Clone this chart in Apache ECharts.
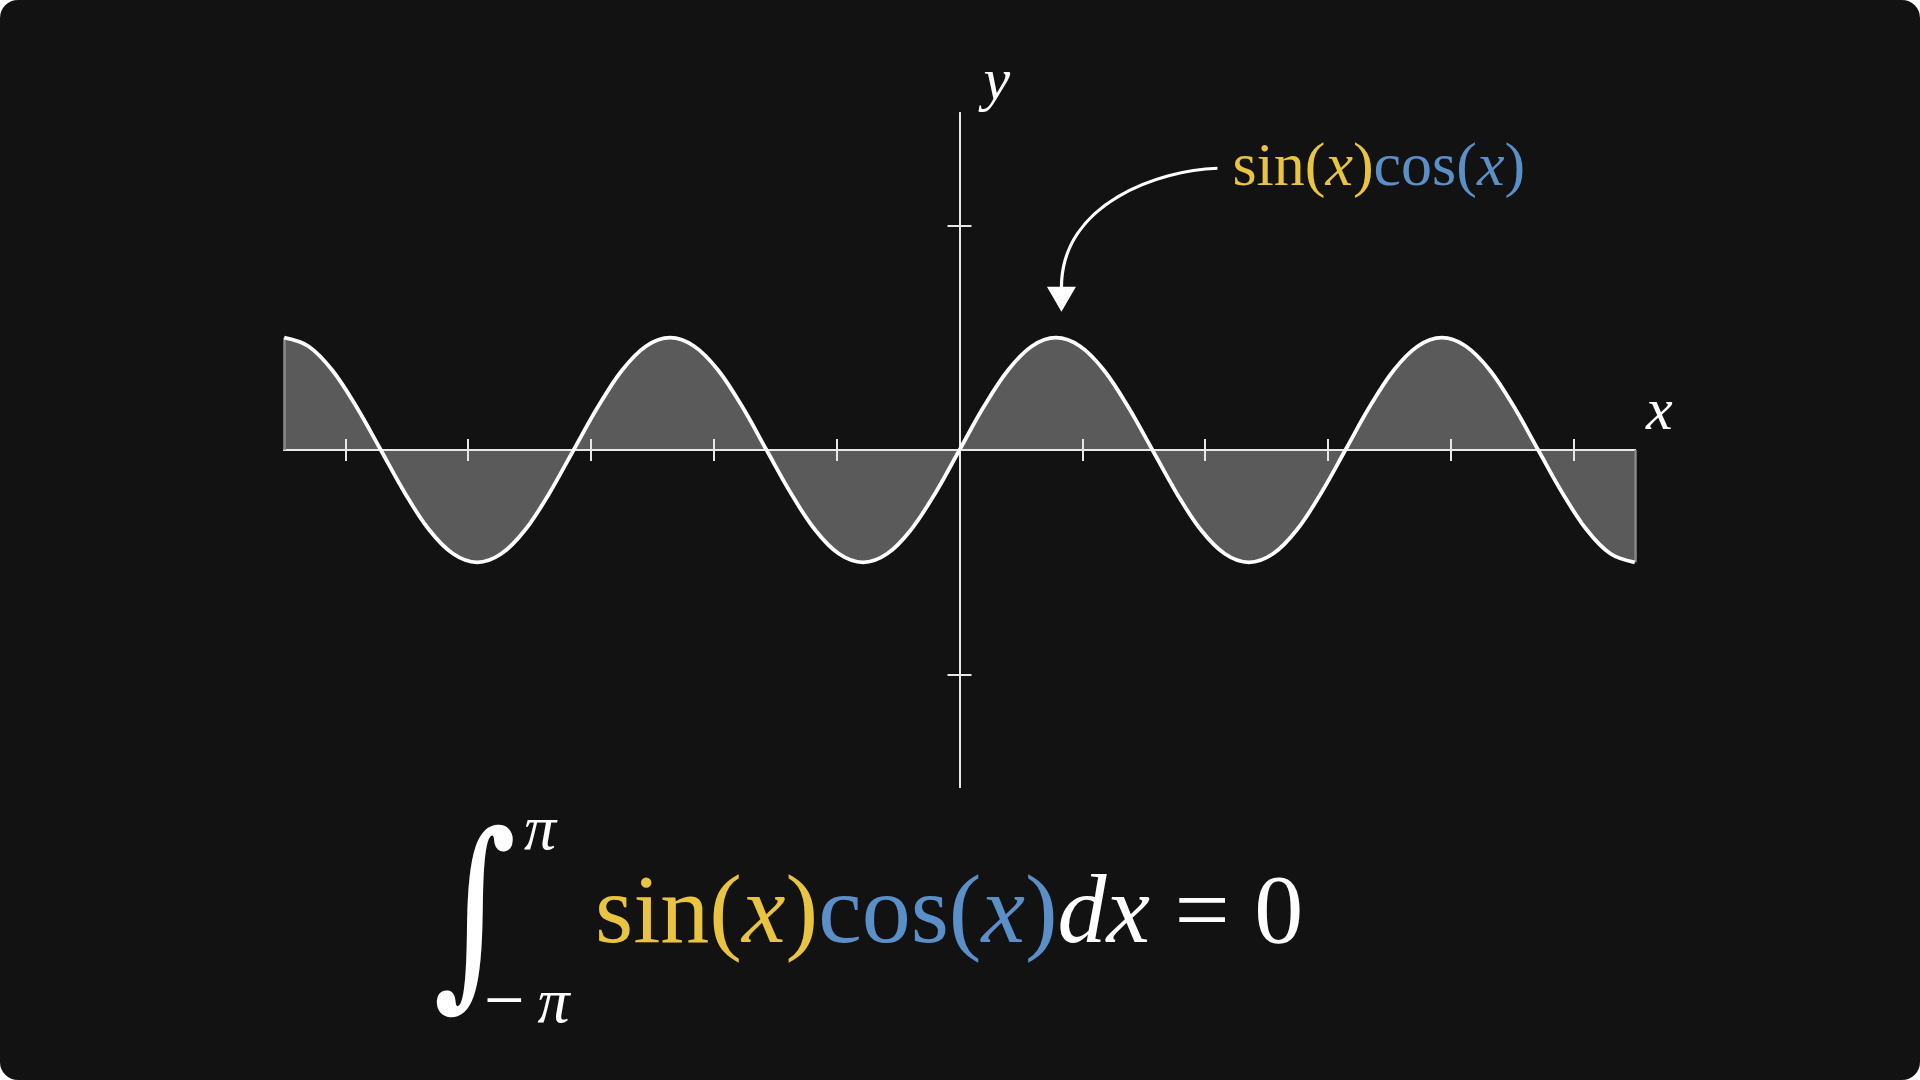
<!DOCTYPE html>
<html><head><meta charset="utf-8">
<script src="https://cdn.jsdelivr.net/npm/echarts@6/dist/echarts.min.js"></script>
<style>
html,body{margin:0;padding:0;background:#ffffff;}
#chart{width:1920px;height:1080px;background:#121212;border-radius:18px;overflow:hidden;}
</style></head><body><div id="chart"></div>
<script>
// Curve y = sin(x)cos(x), values read at x steps of pi/16 (peaks and troughs at +-0.5)
const xValues = [-5.498,-5.301,-5.105,-4.909,-4.712,-4.516,-4.320,-4.123,-3.927,-3.731,-3.534,-3.338,-3.142,-2.945,-2.749,-2.553,-2.356,-2.160,-1.963,-1.767,-1.571,-1.374,-1.178,-0.982,-0.785,-0.589,-0.393,-0.196,
  0,0.196,0.393,0.589,0.785,0.982,1.178,1.374,1.571,1.767,1.963,2.160,2.356,2.553,2.749,2.945,3.142,3.338,3.534,3.731,3.927,4.123,4.320,4.516,4.712,4.909,5.105,5.301,5.498];
const yValues = [0.5,0.462,0.354,0.191,0,-0.191,-0.354,-0.462,-0.5,-0.462,-0.354,-0.191,0,0.191,0.354,0.462,0.5,0.462,0.354,0.191,0,-0.191,-0.354,-0.462,-0.5,-0.462,-0.354,-0.191,
  0,0.191,0.354,0.462,0.5,0.462,0.354,0.191,0,-0.191,-0.354,-0.462,-0.5,-0.462,-0.354,-0.191,0,0.191,0.354,0.462,0.5,0.462,0.354,0.191,0,-0.191,-0.354,-0.462,-0.5];
const xTickValues = [-5,-4,-3,-2,-1,1,2,3,4,5];
const yTickValues = [-1,1];
const xRange = [-5.5, 5.5];
const yRange = [-1.5, 1.5];
const annotationAnchor = [0.83, 0.5];
const axisNames = ['x', 'y'];

const curveData = xValues.map((x, i) => [x, yValues[i]]);
const last = xValues.length - 1;

const SERIF = '"Liberation Serif"';
const YELLOW = '#e9c440', BLUE = '#5b8fc8', WHITE = '#ffffff', AXIS = '#e8e8e8';

function xAxisDef(pos, idx, len) {
  return {
    type: 'value', min: xRange[0], max: xRange[1], position: pos, z: 3,
    axisLine: { show: true, onZero: true, onZeroAxisIndex: idx, lineStyle: { color: AXIS, width: 2 } },
    axisTick: { show: true, customValues: xTickValues, length: len, inside: false, lineStyle: { color: AXIS, width: 2 } },
    axisLabel: { show: false }, splitLine: { show: false }
  };
}
function yAxisDef(pos, idx, len) {
  return {
    type: 'value', min: yRange[0], max: yRange[1], position: pos, z: 3,
    axisLine: { show: true, onZero: true, onZeroAxisIndex: idx, lineStyle: { color: AXIS, width: 2 } },
    axisTick: { show: true, customValues: yTickValues, length: len, inside: false, lineStyle: { color: AXIS, width: 2 } },
    axisLabel: { show: false }, splitLine: { show: false }
  };
}

const chart = echarts.init(document.getElementById('chart'), null, { renderer: 'canvas' });
chart.setOption({
  backgroundColor: 'transparent',
  animation: false,
  grid: { left: 284, right: 285, top: 113, bottom: 293, containLabel: false, outerBoundsMode: 'none' },
  xAxis: [xAxisDef('bottom', 0, 11), xAxisDef('top', 1, 11)],
  yAxis: [yAxisDef('left', 0, 12), yAxisDef('right', 1, 12)],
  series: [
    { type: 'line', data: curveData, smooth: 0.35, symbol: 'none', z: 1,
      lineStyle: { width: 0, opacity: 0 }, areaStyle: { color: '#5a5a5a', opacity: 1, origin: 0 },
      markLine: { silent: true, symbol: ['none', 'none'], label: { show: false },
        lineStyle: { color: '#8a8a8a', width: 2.5, type: 'solid' },
        data: [
          [{ coord: [xValues[0], 0] }, { coord: [xValues[0], yValues[0]] }],
          [{ coord: [xValues[last], 0] }, { coord: [xValues[last], yValues[last]] }]
        ] } },
    { type: 'line', data: curveData, smooth: 0.35, symbol: 'none', z: 5,
      lineStyle: { width: 3.8, color: WHITE } }
  ]
});

const P = chart.convertToPixel({ gridIndex: 0 }, annotationAnchor);
const XE = chart.convertToPixel({ gridIndex: 0 }, [xRange[1], 0]);
const YE = chart.convertToPixel({ gridIndex: 0 }, [0, yRange[1]]);

function tok(color, size, italic) {
  return { fill: color, fontSize: size, fontFamily: SERIF, fontStyle: italic ? 'italic' : 'normal' };
}

chart.setOption({
  graphic: [
    { type: 'text', z: 10, style: { x: XE[0] + 11, y: XE[1] - 37, text: axisNames[0], fill: WHITE,
        font: 'italic 60px ' + SERIF, align: 'left', verticalAlign: 'middle' } },
    { type: 'text', z: 10, style: { x: YE[0] + 24, y: YE[1] - 30, text: axisNames[1], fill: WHITE,
        font: 'italic 60px ' + SERIF, align: 'left', verticalAlign: 'middle' } },
    { type: 'bezierCurve', z: 10, shape: { x1: P[0] + 156, y1: P[1] - 169.4, cpx1: P[0] + 98, cpy1: P[1] - 167.7,
        cpx2: P[0], cpy2: P[1] - 134.7, x2: P[0], y2: P[1] - 50 },
      style: { stroke: WHITE, lineWidth: 3.2, fill: null } },
    { type: 'polygon', z: 10, shape: { points: [[P[0] - 14.5, P[1] - 51], [P[0] + 14.5, P[1] - 51], [P[0], P[1] - 26]] },
      style: { fill: WHITE } },
    { type: 'text', z: 10, style: { x: P[0] + 171, y: P[1] - 169,
        text: '{a|sin(}{b|x}{a|)}{c|cos(}{d|x}{c|)}', align: 'left', verticalAlign: 'middle',
        rich: { a: tok(YELLOW, 62), b: tok(YELLOW, 62, true), c: tok(BLUE, 62), d: tok(BLUE, 62, true) } } },
    // integral formula
    { type: 'text', z: 10, x: 475, y: 927, scaleX: 0.78, scaleY: 1,
      style: { x: 0, y: 0, text: '\u222B', fill: WHITE,
        font: '205px "DejaVu Serif"', align: 'center', verticalAlign: 'middle' } },
    { type: 'text', z: 10, style: { x: 524, y: 832, text: '\u03C0', fill: WHITE,
        font: 'italic 64px ' + SERIF, align: 'left', verticalAlign: 'middle' } },
    { type: 'text', z: 10, style: { x: 484, y: 1005, text: '{m|\u2212}{s|\u2009}{p|\u03C0}', align: 'left', verticalAlign: 'middle',
        rich: { m: tok(WHITE, 72), s: tok(WHITE, 64), p: tok(WHITE, 64, true) } } },
    { type: 'text', z: 10, style: { x: 595, y: 916,
        text: '{a|sin(}{b|x}{a|)}{c|cos(}{d|x}{c|)}{w|dx}{n| = 0}', align: 'left', verticalAlign: 'middle',
        rich: { a: tok(YELLOW, 98), b: tok(YELLOW, 98, true), c: tok(BLUE, 98), d: tok(BLUE, 98, true),
                w: tok(WHITE, 98, true), n: tok(WHITE, 98) } } }
  ]
});
</script></body></html>
